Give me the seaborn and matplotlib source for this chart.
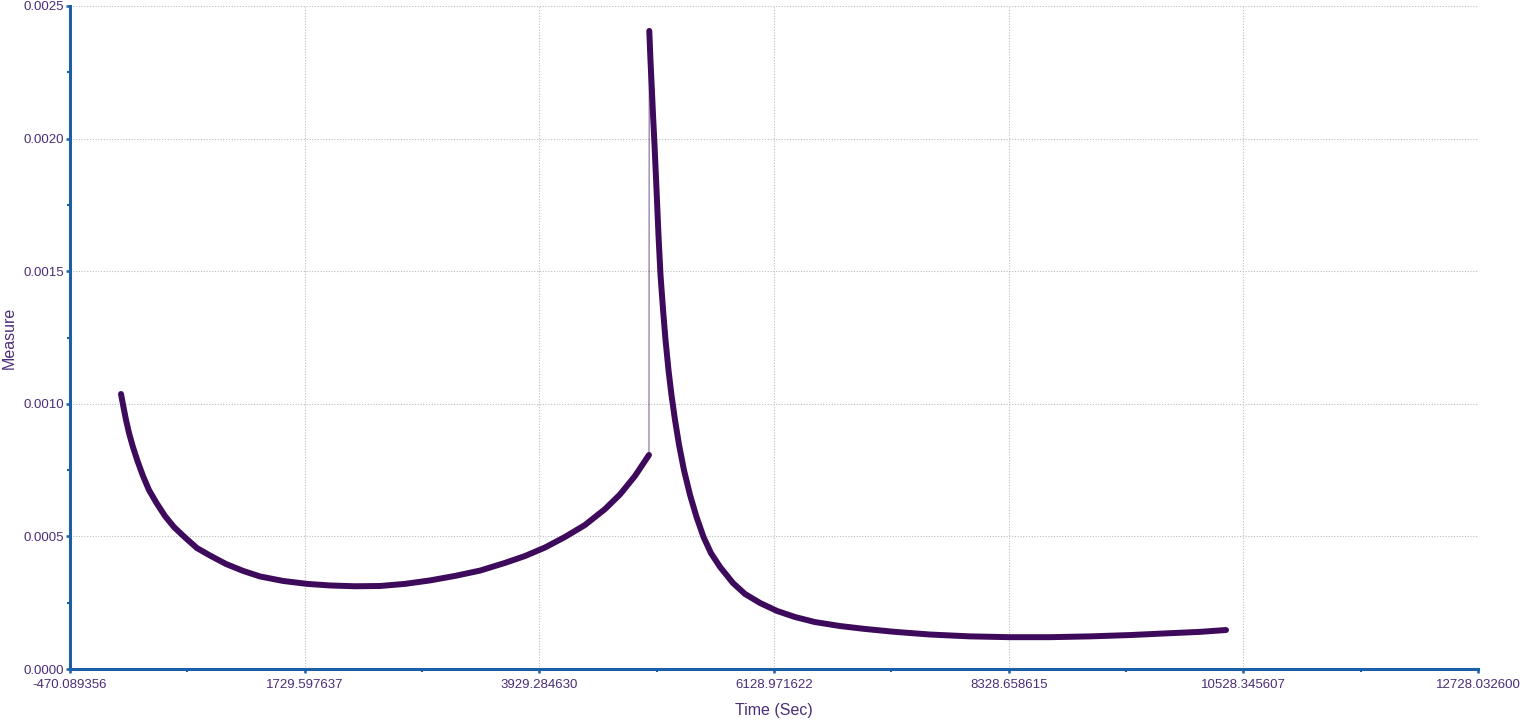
import numpy as np
import pandas as pd
import matplotlib
matplotlib.use("Agg")
import matplotlib.pyplot as plt
import seaborn as sns
from matplotlib.ticker import FixedLocator, AutoMinorLocator, FormatStrFormatter

# values
time_a = [8, 31, 55, 83, 120, 163, 214, 270, 341, 420, 505, 608, 720, 842,
          992, 1152, 1311, 1527, 1751, 1967, 2201, 2436, 2670, 2904, 3139,
          3373, 3607, 3795, 3982, 4170, 4357, 4545, 4685, 4826, 4957]
measure_a = [0.001037, 0.000988, 0.000939, 0.000890, 0.000837, 0.000784,
             0.000728, 0.000675, 0.000626, 0.000577, 0.000535, 0.000496,
             0.000456, 0.000428, 0.000396, 0.000370, 0.000349, 0.000332,
             0.000321, 0.000315, 0.000312, 0.000313, 0.000321, 0.000334,
             0.000351, 0.000371, 0.000400, 0.000426, 0.000458, 0.000498,
             0.000543, 0.000603, 0.000658, 0.000728, 0.000807]

time_b = [4960, 4971, 4983, 4995, 5009, 5028, 5046, 5065, 5089, 5112, 5140,
          5168, 5201, 5239, 5285, 5342, 5403, 5468, 5538, 5623, 5745, 5857,
          5998, 6157, 6326, 6513, 6748, 6982, 7263, 7591, 7966, 8341, 8716,
          9091, 9466, 9841, 10122, 10366]
measure_b = [0.002406, 0.002296, 0.002195, 0.002089, 0.001976, 0.001806,
             0.001637, 0.001486, 0.001354, 0.001241, 0.001127, 0.001033,
             0.000939, 0.000845, 0.000750, 0.000656, 0.000573, 0.000498,
             0.000437, 0.000385, 0.000324, 0.000283, 0.000249, 0.000219,
             0.000196, 0.000177, 0.000162, 0.000151, 0.000140, 0.000130,
             0.000123, 0.000120, 0.000120, 0.000123, 0.000128, 0.000135,
             0.000140, 0.000147]

x_ticks = [-470.089356, 1729.597637, 3929.284630, 6128.971622,
           8328.658615, 10528.345607, 12728.032600]
y_ticks = [0.0, 0.0005, 0.0010, 0.0015, 0.0020, 0.0025]

line_col = "#3d0a5c"
axis_col = "#1b5fa8"
text_col = "#4a2d78"

sns.set_theme(style="white")
plt.rcParams["font.family"] = ["Liberation Sans", "DejaVu Sans"]

df_a = pd.DataFrame({"Time": time_a, "Measure": measure_a})
df_b = pd.DataFrame({"Time": time_b, "Measure": measure_b})
df_jump = pd.DataFrame({"Time": [time_a[-1], time_b[0]],
                        "Measure": [measure_a[-1], measure_b[0]]})

fig = plt.figure(figsize=(15.29, 7.27), dpi=100)
ax = fig.add_axes([70 / 1529, 58 / 727, 1408 / 1529, 663 / 727])

sns.lineplot(data=df_jump, x="Time", y="Measure", ax=ax, color=line_col,
             linewidth=1, alpha=0.5, sort=False)
for d in (df_a, df_b):
    sns.lineplot(data=d, x="Time", y="Measure", ax=ax, color=line_col,
                 linewidth=4.3, sort=False, solid_capstyle="round",
                 solid_joinstyle="round")

ax.set_xlim(x_ticks[0], x_ticks[-1])
ax.set_ylim(y_ticks[0], y_ticks[-1])
ax.xaxis.set_major_locator(FixedLocator(x_ticks))
ax.yaxis.set_major_locator(FixedLocator(y_ticks))
ax.xaxis.set_major_formatter(FormatStrFormatter("%.6f"))
ax.yaxis.set_major_formatter(FormatStrFormatter("%.4f"))
ax.xaxis.set_minor_locator(AutoMinorLocator(2))
ax.yaxis.set_minor_locator(AutoMinorLocator(2))

ax.grid(True, which="major", color="#bdbdbd", linestyle=(0, (1, 1.5)),
        linewidth=0.8)
ax.set_axisbelow(True)

for s in ("top", "right"):
    ax.spines[s].set_visible(False)
for s in ("left", "bottom"):
    ax.spines[s].set_color(axis_col)
    ax.spines[s].set_linewidth(2.2)

ax.tick_params(which="major", direction="out", length=3, width=1.8,
               color=axis_col, labelcolor=text_col, labelsize=9.5)
ax.tick_params(axis="x", which="major", pad=4)
ax.tick_params(axis="y", which="major", pad=1.5)
ax.tick_params(which="minor", direction="out", length=2.5, width=1.5,
               color=axis_col)
ax.tick_params(axis="x", which="both", bottom=True)
ax.tick_params(axis="y", which="both", left=True)

ax.set_xlabel("Time (Sec)", color=text_col, fontsize=11.5, labelpad=9)
ax.set_ylabel("Measure", color=text_col, fontsize=11.5)
ax.yaxis.set_label_coords(-0.038, 0.5)

fig.savefig("out.png", dpi=100)
